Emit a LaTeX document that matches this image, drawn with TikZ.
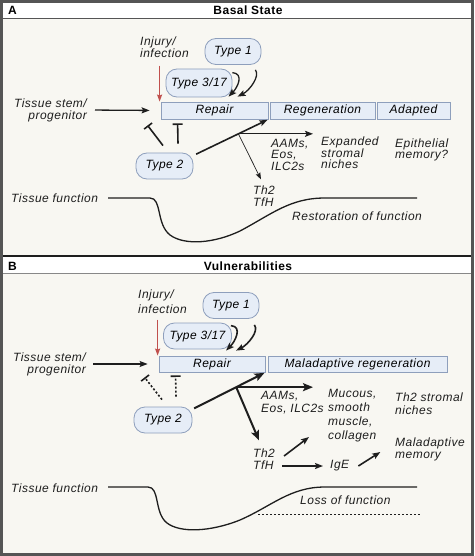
\documentclass[tikz,border=0pt]{standalone}
\usepackage{fontspec}
\setmainfont{Liberation Sans}[LetterSpace=4]
\usetikzlibrary{arrows.meta, calc}
\definecolor{boxfill}{HTML}{E6EDF7}
\definecolor{boxline}{HTML}{8E9FBC}
\definecolor{injred}{HTML}{C0504D}
\definecolor{paper}{HTML}{F8F7F2}
\definecolor{framegray}{HTML}{555555}
\definecolor{ink}{HTML}{1E1E1E}

\begin{document}
\begin{tikzpicture}[x=1pt, y=-1pt,
    cell/.style={draw=boxline, fill=boxfill, line width=0.8pt, rounded corners=11pt,
      minimum width=#1, minimum height=26pt, inner sep=0pt,
      font=\itshape\fontsize{12}{12}\selectfont},
    cell/.default=57pt,
    stage/.style={draw=boxline, fill=boxfill, line width=0.8pt,
      minimum width=#1, minimum height=17pt, inner sep=0pt,
      font=\itshape\fontsize{12}{12}\selectfont},
    lbl/.style={inner sep=0pt, align=left, text=ink,
      font=\itshape\fontsize{12}{#1}\selectfont},
    lbl/.default=11.5,
    arr/.style={draw=ink, line width=1.3pt, -{Stealth[length=8pt, width=6pt, inset=1.5pt]}},
    fatarr/.style={draw=ink, line width=2pt, -{Stealth[length=10pt, width=8pt, inset=2pt]}},
    thinarr/.style={draw=ink, line width=0.7pt, -{Stealth[length=7pt, width=5pt, inset=1.5pt]}},
    redarr/.style={draw=injred, line width=1.4pt, -{Stealth[length=7pt, width=5pt, inset=1pt]}},
    blocker/.style={draw=ink, line width=1.6pt, -{Bar[width=10pt, line width=1.6pt]}},
    dotblock/.style={draw=ink, line width=1.6pt, dash pattern=on 2pt off 2pt,
      -{Bar[width=10pt, line width=1.6pt, sep=0pt]}},
    paneltitle/.style={inner sep=0pt, font=\bfseries\fontsize{12}{12}\selectfont}
  ]
  \useasboundingbox (0,0) rectangle (474,556);
  % frame and headers
  \fill[paper] (0,0) rectangle (474,556);
  \fill[white] (3,3) rectangle (471,18);
  \fill[white] (3,257) rectangle (471,273);
  \draw[framegray, line width=1.2pt] (3,18.5) -- (471,18.5);
  \draw[ink, line width=2pt] (3,256) -- (471,256);
  \draw[framegray!70, line width=1pt] (3,273.5) -- (471,273.5);
  \draw[framegray, line width=3pt] (1.5,1.5) rectangle (472.5,554.5);
  \node[paneltitle, anchor=west] (tagA) at (8,10) {A};
  \node[paneltitle] (titleA) at (248,10) {Basal State};
  \node[paneltitle, anchor=west] (tagB) at (8,266) {B};
  \node[paneltitle] (titleB) at (248,266) {Vulnerabilities};

  % ---- panel A ----
  \node[lbl=11, anchor=west] (injA) at (140,47) {Injury/\\infection};
  \node[cell=56pt] (typeoneA) at (233,51.5) {Type 1};
  \node[cell=66pt, minimum height=28pt] (typethreeA) at (199,83) {Type 3/17};
  \node[stage=107pt] (repairA) at (214.5,110.5) {Repair};
  \node[stage=105pt] (regenA) at (322.5,110.5) {Regeneration};
  \node[stage=73pt] (adaptedA) at (413.5,110.5) {Adapted};
  \node[lbl=12, align=right, anchor=east] (stemA) at (87,110) {Tissue stem/\\progenitor};
  \node[cell] (typetwoA) at (164.5,166) {Type 2};
  \node[lbl, anchor=west] (aamsA) at (271,154.5) {AAMs,\\Eos,\\ILC2s};
  \node[lbl, anchor=west] (expandA) at (321,153) {Expanded\\stromal\\niches};
  \node[lbl, anchor=west] (epiA) at (395,150) {Epithelial\\memory?};
  \node[lbl=12, anchor=west] (thA) at (253,196) {Th2\\TfH};
  \node[lbl, anchor=west] (funcA) at (11,198) {Tissue function};
  \node[lbl, anchor=west] (restoreA) at (292,216) {Restoration of function};

  \coordinate (injtipA) at ($(repairA.north west)+(-1,-36)$);
  \draw[redarr] (injtipA) -- (injtipA |- repairA.north);
  \draw[arr, shorten <=8pt, shorten >=11pt] (stemA.east) -- (repairA.west);
  \draw[arr] ($(typethreeA.north east)+(0,4)$) .. controls +(12,1) and +(9,-9) .. ($(repairA.north)+(14,-5)$);
  \draw[arr] ($(typeoneA.south east)+(-6,5)$) .. controls +(5,6) and +(12,-6) .. ($(repairA.north)+(23,-5)$);
  \draw[blocker] ($(typetwoA.north)+(-1.5,-7)$) -- ($(repairA.south west)+(-13,6)$);
  \draw[blocker] ($(typetwoA.north)+(13.5,-9)$) -- ($(repairA.south west)+(17,4)$);
  \coordinate (brA) at ($(typetwoA.20)!0.6!(repairA.south east)$);
  \draw[arr, line width=1.6pt, shorten <=3pt, shorten >=1pt] (typetwoA.20) -- (repairA.south east);
  \draw[arr] (brA) -- ($(brA -| expandA.west)+(-8,0)$);
  \draw[thinarr] (brA) -- ($(thA.north)+(-3,-6)$);
  \draw[ink, line width=1.3pt] (108,198) -- (150,198)
    .. controls (162,198) and (156,224) .. (170,235)
    .. controls (185,246) and (215,243) .. (240,231)
    .. controls (272,214) and (290,198) .. (325,198) -- (417,198);

  % ---- panel B ----
  \node[lbl=15, anchor=west] (injB) at (138,302) {Injury/\\infection};
  \node[cell=56pt] (typeoneB) at (231,305.5) {Type 1};
  \node[cell=68pt] (typethreeB) at (197.5,336) {Type 3/17};
  \node[stage=106pt, minimum height=16pt] (repairB) at (212,364) {Repair};
  \node[stage=179pt, minimum height=16pt] (maladB) at (357.5,364) {Maladaptive regeneration};
  \node[lbl=12, align=right, anchor=east] (stemB) at (86,364) {Tissue stem/\\progenitor};
  \node[cell=58pt] (typetwoB) at (163,420) {Type 2};
  \node[lbl=13, anchor=west] (aamsB) at (261,402.5) {AAMs,\\Eos, ILC2s};
  \node[lbl=14, anchor=west] (mucousB) at (328,416) {Mucous,\\smooth\\muscle,\\collagen};
  \node[lbl=13, anchor=west] (nicheB) at (395,403.5) {Th2 stromal\\niches};
  \node[lbl=12, anchor=west] (thB) at (253,459) {Th2\\TfH};
  \node[lbl, anchor=west] (igeB) at (330,466) {IgE};
  \node[lbl=12, anchor=west] (memB) at (395,449) {Maladaptive\\memory};
  \node[lbl, anchor=west] (funcB) at (11,488) {Tissue function};
  \node[lbl, anchor=west] (lossB) at (300,500) {Loss of function};

  \coordinate (injtipB) at ($(repairB.north west)+(-1,-36)$);
  \draw[redarr] (injtipB) -- (injtipB |- repairB.north);
  \draw[arr, shorten <=7pt, shorten >=11pt] (stemB.east) -- (repairB.west);
  \draw[arr, line width=1.6pt] ($(typethreeB.north east)+(-1,3)$) .. controls +(12,1) and +(9,-9) .. ($(repairB.north)+(14,-5)$);
  \draw[arr, line width=1.6pt] ($(typeoneB.south east)+(-5,6)$) .. controls +(5,6) and +(12,-6) .. ($(repairB.north)+(24,-5)$);
  \draw[dotblock] ($(typetwoB.north)+(-1,-7)$) -- ($(repairB.south west)+(-14,5)$);
  \draw[dotblock] ($(typetwoB.north)+(13,-10)$) -- ($(repairB.south west)+(17,3)$);
  \coordinate (brB) at ($(typetwoB.20)!0.6!(repairB.south east)$);
  \draw[fatarr, shorten <=2pt, shorten >=1pt] (typetwoB.20) -- (repairB.south east);
  \draw[fatarr] (brB) -- ($(brB -| mucousB.west)+(-15,0)$);
  \draw[fatarr] (brB) -- ($(thB.north)+(-5,-8)$);
  \draw[arr, line width=1.6pt] ($(thB.east)+(9,-3)$) -- ++(25,-19);
  \draw[arr, line width=1.6pt, shorten <=7pt, shorten >=7pt] (thB.east |- igeB) -- (igeB.west);
  \draw[arr, line width=1.6pt] ($(igeB.east)+(9,0)$) -- ++(22,-14);
  \draw[ink, line width=1.3pt] (108,487) -- (148,487)
    .. controls (160,487) and (154,513) .. (167,523)
    .. controls (180,533) and (210,532) .. (240,520)
    .. controls (272,506) and (290,487) .. (325,487) -- (417,487);
  \draw[ink, line width=1pt, dash pattern=on 2pt off 2pt] (258,514) -- (lossB.west |- 421,514) -- (421,514);
\end{tikzpicture}
\end{document}
